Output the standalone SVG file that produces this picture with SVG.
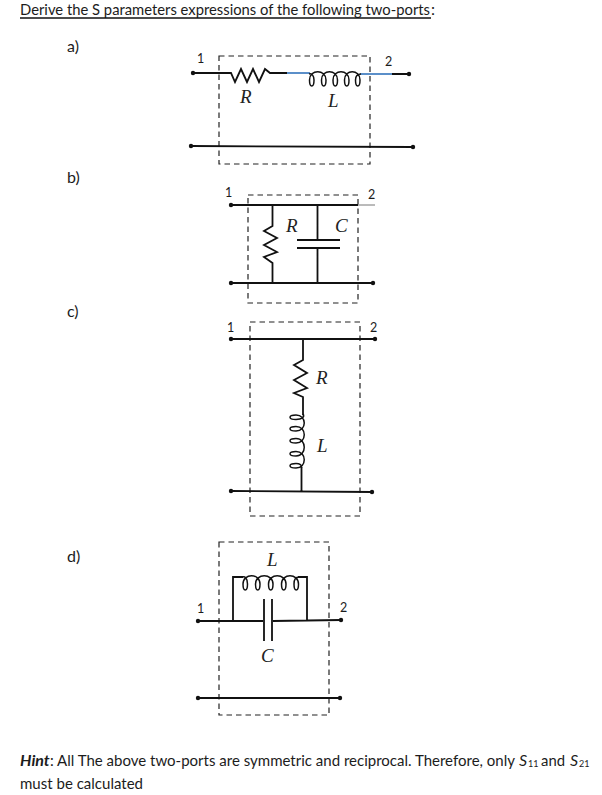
<svg xmlns="http://www.w3.org/2000/svg" width="602" height="795" viewBox="0 0 602 795">
<style>
text{fill:#1c1c1c;font-family:Lato,"Open Sans",sans-serif}
.t{font-size:16px}
.n{font-size:12.500px}
.s{font-size:9px}
.i{font-style:italic}
.m{font-family:"Liberation Serif",serif;font-style:italic;font-size:19px;fill:#222}
.w{fill:none;stroke:#111;stroke-width:1.800}
.c{fill:none;stroke:#111;stroke-width:1.500}
.b{fill:none;stroke:#5b8fc9;stroke-width:1.800}
.d{fill:none;stroke:#222;stroke-width:1.200;stroke-dasharray:5.500 4}
.dot{fill:#111}
</style>
<rect width="602" height="795" fill="#fff"/>
<text class="t" x="20" y="15" textLength="410" lengthAdjust="spacingAndGlyphs">Derive the S parameters expressions of the following two-ports</text>
<path d="M20 18H431" stroke="#111" stroke-width="1.400" fill="none"/>
<text class="t" x="431" y="15">:</text>
<text class="t" x="67" y="52">a)</text>
<text class="t" x="67" y="183">b)</text>
<text class="t" x="67" y="317">c)</text>
<text class="t" x="67" y="562">d)</text>
<g id="node-a">
<rect class="d" x="219" y="56" width="151" height="108"/>
<circle class="dot" cx="193" cy="73" r="2.200"/><circle class="dot" cx="409" cy="74" r="2.200"/><circle class="dot" cx="191" cy="146" r="2.200"/><circle class="dot" cx="413" cy="147" r="2.200"/>
<path class="w" d="M193 73H231L235 82L241 69L247 82L253 69L259 82L265 69L270 73H287M392 74H409M191 146L413 147"/>
<path class="b" d="M287 73L310 73M360 74H392"/>
<path class="c" d="M309 74C312 73 314 76 314 80C314 88 309.500 88 309.500 80C309.500 69 326 69 326 80C326 88 321.500 88 321.500 80C321.500 69 337.500 69 337.500 80C337.500 88 333 88 333 80C333 69 349 69 349 80C349 88 344.500 88 344.500 80C344.500 69 360 69 360 80C360 88 355.500 88 355.500 80C355.500 75 358 74 361 74"/>
<text class="n" x="197" y="63">1</text><text class="n" x="385" y="66">2</text>
<text class="m" x="240" y="103">R</text><text class="m" x="328" y="107">L</text>
</g>
<g id="node-b">
<rect class="d" x="248" y="195" width="110" height="108"/>
<circle class="dot" cx="231" cy="205" r="2.200"/><circle class="dot" cx="231" cy="283" r="2.200"/><circle class="dot" cx="373" cy="283" r="2.200"/>
<path class="w" d="M231 205H358M231 283H373M272.500 205V226L264 231L277 238L264 245L277 252L264 257L272.500 263V283M317.500 205V240M297 240H340M297 248H340M317.500 248V283"/>
<path d="M358 205H375" fill="none" stroke="#777" stroke-width="1"/>
<text class="n" x="225" y="197">1</text><text class="n" x="368" y="199">2</text>
<text class="m" x="286" y="232">R</text><text class="m" x="335" y="232">C</text>
</g>
<g id="node-c">
<rect class="d" x="250" y="322" width="110" height="194"/>
<circle class="dot" cx="231" cy="339" r="2.200"/><circle class="dot" cx="375" cy="339" r="2.200"/><circle class="dot" cx="231" cy="491" r="2.200"/><circle class="dot" cx="372" cy="492" r="2.200"/>
<path class="w" d="M231 339H375M231 491L372 492M303 339V360L294 365L307 373L294 380L307 388L294 393L303 397V415M301.500 467V491"/>
<path class="c" d="M303 414C305 417 302 419.500 296 419.500C288 419.500 288 415 296 415C307 415 307 431 296 431C288 431 288 426.500 296 426.500C307 426.500 307 443 296 443C288 443 288 438.500 296 438.500C307 438.500 307 456 296 456C288 456 288 451.500 296 451.500C307 451.500 307 468 296 468C288 468 288 463.500 296 463.500C300 463.500 302 465 301.500 468"/>
<text class="n" x="227" y="332">1</text><text class="n" x="370" y="332">2</text>
<text class="m" x="316" y="384">R</text><text class="m" x="317" y="452">L</text>
</g>
<g id="node-d">
<rect class="d" x="219" y="542" width="110" height="173"/>
<circle class="dot" cx="198" cy="621" r="2.200"/><circle class="dot" cx="341" cy="620" r="2.200"/><circle class="dot" cx="198" cy="698" r="2.200"/><circle class="dot" cx="340" cy="698" r="2.200"/>
<path class="w" d="M198 621H263M273 621L341 620M233 621V577H243M298 577H307V620M264 599V641M272 599V641M198 698H340"/>
<path class="c" d="M242 577C245 576 247.500 578 247.500 584C247.500 592 243 592 243 584C243 573 260 573 260 584C260 592 255.500 592 255.500 584C255.500 573 273 573 273 584C273 592 268.500 592 268.500 584C268.500 573 286 573 286 584C286 592 281.500 592 281.500 584C281.500 573 298.500 573 298.500 584C298.500 592 294 592 294 584C294 579 296 577 299 577"/>
<text class="n" x="197" y="613">1</text><text class="n" x="340" y="612">2</text>
<text class="m" x="267" y="566">L</text><text class="m" x="261" y="662">C</text>
</g>
<text class="t" x="20" y="766" font-weight="700" font-style="italic">Hint</text>
<text class="t" x="50" y="766" textLength="465" lengthAdjust="spacingAndGlyphs">: All The above two-ports are symmetric and reciprocal. Therefore, only</text>
<text class="t i" x="519" y="766">S</text><text class="s" x="528" y="767">11</text>
<text class="t" x="541" y="766" textLength="24" lengthAdjust="spacingAndGlyphs">and</text>
<text class="t i" x="570" y="766">S</text><text class="s" x="579" y="767">21</text>
<text class="t" x="20" y="789" textLength="123" lengthAdjust="spacingAndGlyphs">must be calculated</text>
</svg>
